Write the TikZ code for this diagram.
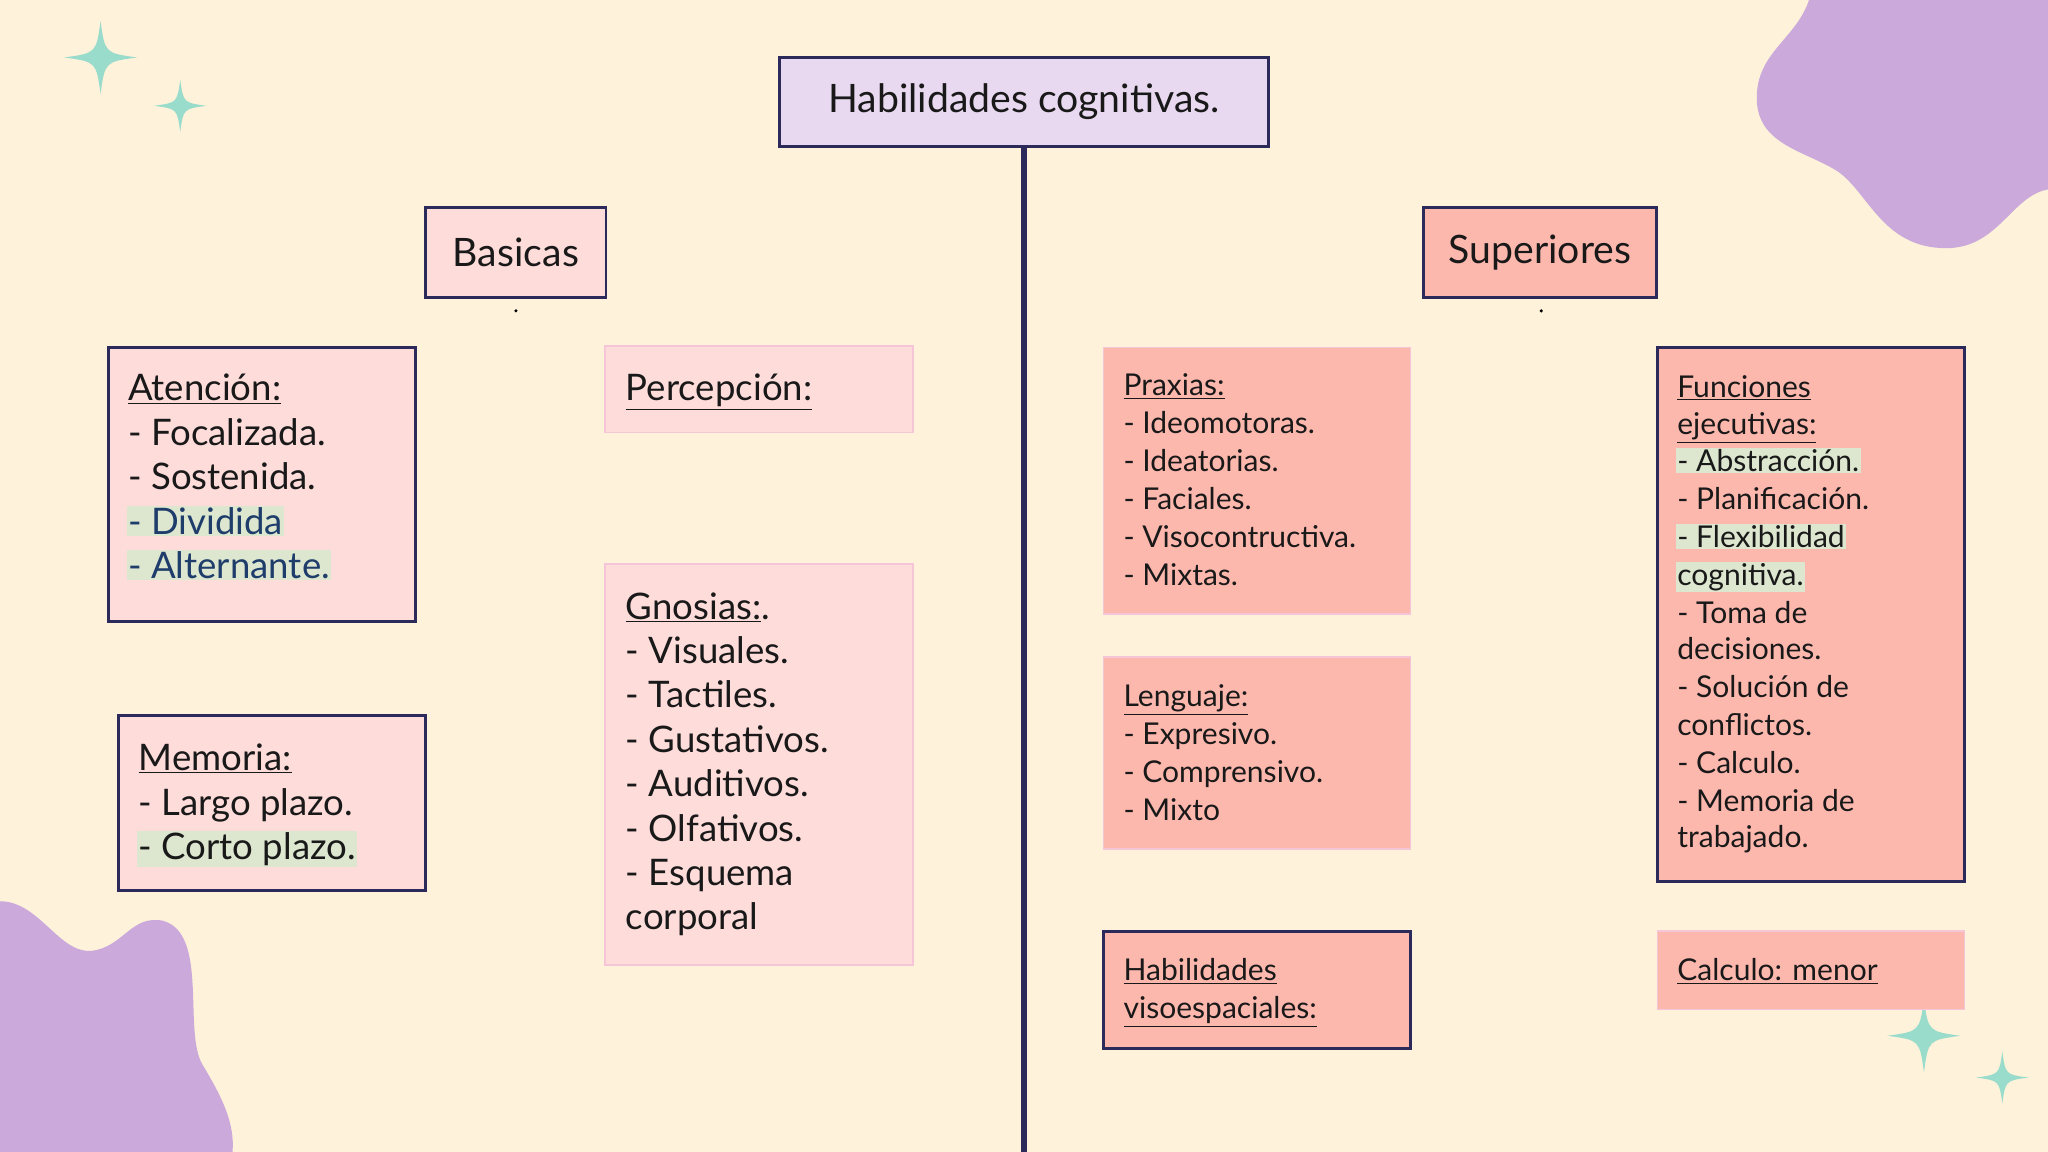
\documentclass[tikz,border=0pt]{standalone}
\usepackage{fontspec}
\setmainfont{Lato}
\usetikzlibrary{calc}
\definecolor{bg}{HTML}{FEF2DA}
\definecolor{navy}{HTML}{2B2A5A}
\definecolor{lav}{HTML}{E8D8F0}
\definecolor{pinkf}{HTML}{FDDCDA}
\definecolor{salm}{HTML}{FDB8AE}
\definecolor{lightb}{HTML}{F6C6D8}
\definecolor{hl}{HTML}{DDE6CF}
\definecolor{blob}{HTML}{CBAADB}
\definecolor{mint}{HTML}{9ADCCB}
\definecolor{blueT}{HTML}{1E3D6B}
\tikzset{
 x=1pt,y=-1pt,
 navybox/.style={draw=navy,line width=2.2pt},
 lightbox/.style={draw=lightb,line width=1.2pt},
 big/.style={font=\fontsize{28}{32}\selectfont,anchor=base west,inner sep=1pt,text=black!90},
 sm/.style={font=\fontsize{23}{26}\selectfont,anchor=base west,inner sep=1pt,text=black!90},
 hi/.style={fill=hl},
}
\newcommand\mystar[3]{\fill[mint] (#1,#2-#3) .. controls (#1+0.12*#3,#2-0.12*#3) .. (#1+#3,#2) .. controls (#1+0.12*#3,#2+0.12*#3) .. (#1,#2+#3) .. controls (#1-0.12*#3,#2+0.12*#3) .. (#1-#3,#2) .. controls (#1-0.12*#3,#2-0.12*#3) .. (#1,#2-#3) -- cycle;}
\begin{document}
\begin{tikzpicture}
\fill[bg] (0,0) rectangle (1568,882);
\useasboundingbox (0,0) rectangle (1568,882);
% blobs
\fill[blob] (1385,0) .. controls (1375,30) and (1345,40) .. (1345,75) .. controls (1345,110) and (1380,115) .. (1405,130) .. controls (1430,145) and (1440,190) .. (1490,190) .. controls (1530,190) and (1540,150) .. (1568,145) -- (1568,0) -- cycle;
\fill[blob] (0,690) .. controls (30,690) and (45,730) .. (70,728) .. controls (95,725) and (100,700) .. (125,705) .. controls (160,715) and (140,790) .. (155,815) .. controls (170,840) and (180,860) .. (178,882) -- (0,882) -- cycle;
\mystar{77}{44}{28}
\mystar{138}{81}{20}
\mystar{1473}{793}{28}
\mystar{1533}{825}{20}
% trunk
\draw[navy,line width=4pt] (784,112) -- (784,882);
\node[navybox,fill=lav,minimum width=374,minimum height=68,font=\fontsize{30}{32}\selectfont,text=black!90] (title) at (784,78) {Habilidades cognitivas.};
\node[navybox,fill=pinkf,minimum width=138,minimum height=69,font=\fontsize{30}{32}\selectfont,text=black!90] (bas) at (395,193.5) {Basicas};
\node[navybox,fill=salm,minimum width=178,minimum height=69,font=\fontsize{30}{32}\selectfont,text=black!90] (sup) at (1179,193.5) {Superiores};
\fill[black] (395,238) circle (1.3) (1180,238) circle (1.3);
% boxes
\draw[navybox,fill=pinkf] (83,266) rectangle (318,476);
\draw[lightbox,fill=pinkf] (463,265) rectangle (699,331);
\draw[lightbox,fill=pinkf] (463,432) rectangle (699,739);
\draw[navybox,fill=pinkf] (91,548) rectangle (326,682);
\draw[lightbox,fill=salm] (845,266) rectangle (1080,470);
\draw[lightbox,fill=salm] (845,503) rectangle (1080,650);
\draw[navybox,fill=salm] (845,713) rectangle (1080,803);
\draw[navybox,fill=salm] (1269,266) rectangle (1504,675);
\draw[lightbox,fill=salm] (1269,713) rectangle (1504,773);
% Atencion
\node[big] (a0) at (97,307) {\underline{Atención:}};
\node[big] (a1) at (97,341) {- Focalizada.};
\node[big] (a2) at (97,375) {- Sostenida.};
\node[big,hi,text=blueT] (a3) at (97,409) {- Dividida};
\node[big,hi,text=blueT] (a4) at (97,443) {- Alternante.};
% Memoria
\node[big] (m0) at (105,590) {\underline{Memoria:}};
\node[big] (m1) at (105,624) {- Largo plazo.};
\node[big,hi] (m2) at (105,658) {- Corto plazo.};
% Percepcion
\node[big] (p0) at (478,307) {\underline{Percepción:}};
% Gnosias
\node[big] (g0) at (478,474) {\underline{Gnosias:}.};
\node[big] (g1) at (478,508) {- Visuales.};
\node[big] (g2) at (478,542) {- Tactiles.};
\node[big] (g3) at (478,576) {- Gustativos.};
\node[big] (g4) at (478,610) {- Auditivos.};
\node[big] (g5) at (478,644) {- Olfativos.};
\node[big] (g6) at (478,678) {- Esquema};
\node[big] (g7) at (478,712) {corporal};
% Praxias
\node[sm] (x0) at (859,303) {\underline{Praxias:}};
\node[sm] (x1) at (859,332) {- Ideomotoras.};
\node[sm] (x2) at (859,361) {- Ideatorias.};
\node[sm] (x3) at (859,390) {- Faciales.};
\node[sm] (x4) at (859,419) {- Visocontructiva.};
\node[sm] (x5) at (859,448) {- Mixtas.};
% Lenguaje
\node[sm] (l0) at (859,541) {\underline{Lenguaje:}};
\node[sm] (l1) at (859,570) {- Expresivo.};
\node[sm] (l2) at (859,599) {- Comprensivo.};
\node[sm] (l3) at (859,628) {- Mixto};
% Visoespaciales
\node[sm] (v0) at (859,751) {\underline{Habilidades}};
\node[sm] (v1) at (859,780) {\underline{visoespaciales:}};
% Funciones
\node[sm] (f0) at (1283,304) {\underline{Funciones}};
\node[sm] (f1) at (1283,333) {\underline{ejecutivas:}};
\node[sm,hi] (f2) at (1283,361) {- Abstracción.};
\node[sm] (f3) at (1283,390) {- Planificación.};
\node[sm,hi] (f4) at (1283,419) {- Flexibilidad};
\node[sm,hi] (f5) at (1283,448) {cognitiva.};
\node[sm] (f6) at (1283,477) {- Toma de};
\node[sm] (f7) at (1283,505) {decisiones.};
\node[sm] (f8) at (1283,534) {- Solución de};
\node[sm] (f9) at (1283,563) {conflictos.};
\node[sm] (f10) at (1283,592) {- Calculo.};
\node[sm] (f11) at (1283,621) {- Memoria de};
\node[sm] (f12) at (1283,649) {trabajado.};
% Calculo
\node[sm] (c0) at (1283,751) {\underline{Calculo: menor}};
\end{tikzpicture}
\end{document}
